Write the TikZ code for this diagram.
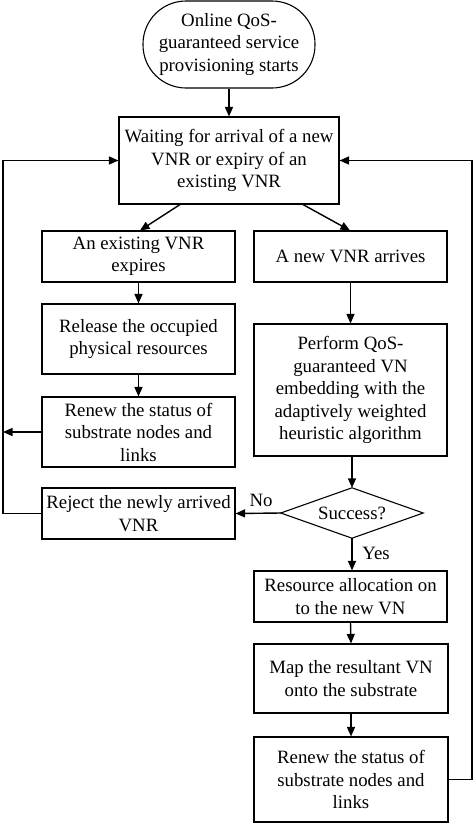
\documentclass[tikz,border=0pt]{standalone}
\usepackage{fontspec}
\setmainfont{Liberation Serif}
\usetikzlibrary{shapes.geometric,arrows.meta,calc}
\begin{document}
\begin{tikzpicture}[x=1pt,y=-1pt,
  every node/.style={font=\fontsize{18.8}{22.5}\selectfont, align=center, inner sep=0pt},
  box/.style={draw, line width=1.1pt, rectangle, minimum width=193pt},
  startbox/.style={draw, line width=1.1pt, rectangle, rounded corners=43pt, minimum width=172pt, minimum height=87pt},
  decision/.style={rectangle, minimum width=142pt, minimum height=50pt},
  arr/.style={line width=1.4pt, -{Triangle[length=9.5pt,width=8pt]}},
  lbl/.style={font=\fontsize{18.8}{22.5}\selectfont}]
\useasboundingbox (0,0) rectangle (474,825);
\node[startbox] (start) at (229,44.5) {Online QoS-\\guaranteed service\\provisioning starts};
\node[box, minimum width=220pt, minimum height=87pt] (wait) at (229,160.5) {Waiting for arrival of a new\\VNR or expiry of an\\existing VNR};
\node[box, minimum height=51pt] (expire) at (138.5,256.5) {An existing VNR\\expires};
\node[box, minimum height=51pt] (arrive) at (350.5,256.5) {A new VNR arrives};
\node[box, minimum height=70pt] (release) at (138.5,339) {Release the occupied\\physical resources};
\node[box, minimum height=70pt] (renewL) at (138.5,432) {Renew the status of\\substrate nodes and\\links};
\node[box, minimum height=51pt] (reject) at (138.5,513.5) {Reject the newly arrived\\VNR};
\node[box, minimum height=132pt] (perform) at (350.5,390) {Perform QoS-\\guaranteed VN\\embedding with the\\adaptively weighted\\heuristic algorithm};
\node[decision] (success) at (352,513) {Success?};
\draw[line width=1.1pt] (success.west) -- (success.north) -- (success.east) -- (success.south) -- cycle;
\node[box, minimum height=51pt] (alloc) at (350.5,596.5) {Resource allocation on\\to the new VN};
\node[box, minimum width=194pt, minimum height=69pt] (map) at (351,678.5) {Map the resultant VN\\onto the substrate};
\node[box, minimum width=194pt, minimum height=85pt] (renewR) at (351,779.5) {Renew the status of\\substrate nodes and\\links};
\node[lbl] (no) at (261,500) {No};
\node[lbl] (yes) at (376,553) {Yes};
\coordinate (lloop) at (3,432);
\coordinate (lbot) at (3,513.5);
\coordinate (ltop) at (3,160.5);
\coordinate (rbot) at (472,779.5);
\coordinate (rtop) at (472,160.5);
\draw[arr] (start) -- (wait);
\draw[arr] ($(wait.south)+(-49,0)$) -- ($(expire.north)+(1.5,0)$);
\draw[arr] ($(wait.south)+(74,0)$) -- ($(arrive.north)+(-0.5,0)$);
\draw[arr] (expire) -- (release);
\draw[arr] (release) -- (renewL);
\draw[arr] (renewL.west) -- (lloop);
\draw[arr] (arrive) -- (perform);
\draw[arr] ($(perform.south)+(1.5,0)$) -- (success.north);
\draw[arr] (success.west) -- (reject.east);
\draw[arr] (success.south) -- ($(alloc.north)+(1.5,0)$);
\draw[arr] (alloc.south) -- (map.north);
\draw[arr] (map) -- (renewR);
\draw[arr] (reject.west) -- (lbot) -- (ltop) -- (wait.west);
\draw[arr] (renewR.east) -- (rbot) -- (rtop) -- (wait.east);
\end{tikzpicture}
\end{document}
